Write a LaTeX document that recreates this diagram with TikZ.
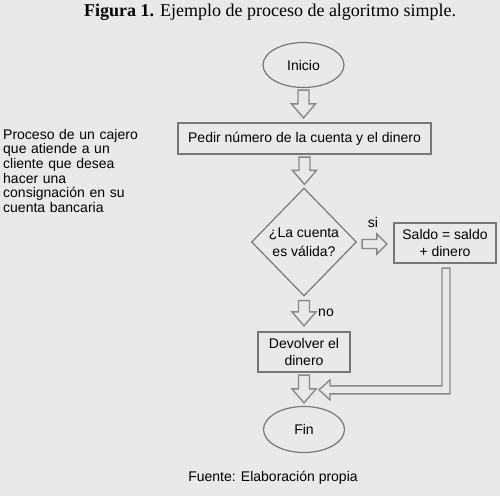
\documentclass[tikz,border=0pt]{standalone}
\usepackage{fontspec}
\setmainfont{Liberation Sans}
\newfontfamily\titlefont{Liberation Serif}
\usetikzlibrary{shapes.geometric,calc}
\definecolor{bg}{HTML}{E9E9E9}
\definecolor{edgecol}{HTML}{777777}
\definecolor{arrcol}{HTML}{888888}
\definecolor{txtcol}{HTML}{000000}
\tikzset{
  boxstyle/.style={draw=edgecol, line width=2.2pt, inner sep=0pt, align=center, text=txtcol, font=\fontsize{14}{17}\selectfont},
  ellipstyle/.style={ellipse, draw=edgecol, line width=1.2pt, inner sep=0pt, text=txtcol, font=\fontsize{14}{17}\selectfont},
  diamstyle/.style={diamond, draw=edgecol, line width=1.2pt, inner sep=0pt, align=center, text=txtcol, font=\fontsize{14}{19}\selectfont},
  lbl/.style={text=txtcol, font=\fontsize{14}{17}\selectfont, inner sep=0pt},
  harrow/.style={draw=arrcol, line width=1.4pt, line join=miter}
}
% hollow down arrow: #1 start coordinate, #2 end coordinate
\newcommand\hdown[2]{%
  \draw[harrow] ($(#1)+(-5.5,0)$) -- ($(#1)+(5.5,0)$) -- ($(#1|-#2)+(5.5,-14)$) -- ($(#1|-#2)+(12,-14)$) -- (#1|-#2) -- ($(#1|-#2)+(-12,-14)$) -- ($(#1|-#2)+(-5.5,-14)$) -- cycle;}
% hollow right arrow
\newcommand\hright[2]{%
  \draw[harrow] ($(#1)+(0,-4.5)$) -- ($(#2|-#1)+(-10,-4.5)$) -- ($(#2|-#1)+(-10,-10)$) -- (#2|-#1) -- ($(#2|-#1)+(-10,10)$) -- ($(#2|-#1)+(-10,4.5)$) -- ($(#1)+(0,4.5)$) -- cycle;}
\begin{document}
\begin{tikzpicture}[x=1pt,y=-1pt]
\fill[bg] (0,0) rectangle (500,496);
\useasboundingbox (0,0) rectangle (500,496);

\node[text=txtcol, inner sep=0pt, font=\titlefont\fontsize{18}{20}\selectfont] (title) at (270,12) {\textbf{Figura 1.} Ejemplo de proceso de algoritmo simple.};

\node[lbl, anchor=north west, align=left, text width=160pt, font=\fontsize{14}{14.6}\selectfont] (desc) at (3,129) {Proceso de un cajero\\que atiende a un\\cliente que desea\\hacer una\\consignación en su\\cuenta bancaria};

\node[ellipstyle, minimum width=81pt, minimum height=45pt] (inicio) at (303.5,65) {Inicio};
\node[boxstyle, minimum width=253pt, minimum height=31pt] (pedir) at (304.5,138.5) {Pedir número de la cuenta y el dinero};
\node[diamstyle, minimum width=105pt, minimum height=108pt] (valida) at (304,242) {¿La cuenta\\es válida?};
\node[boxstyle, minimum width=102pt, minimum height=40pt] (saldo) at (445,243) {Saldo = saldo\\+ dinero};
\node[boxstyle, minimum width=92pt, minimum height=40pt] (devolver) at (304,352) {Devolver el\\dinero};
\node[ellipstyle, minimum width=81pt, minimum height=46pt] (fin) at (304,429.5) {Fin};

\node[lbl] (si) at (373,222) {si};
\node[lbl] (no) at (326,313) {no};

\node[lbl] (fuente) at (273,478) {Fuente: Elaboración propia};

% connectors
\coordinate (a1s) at ($(inicio.south)+(0,2)$);
\coordinate (a1e) at ($(pedir.north)+(0,-4)$);
\hdown{a1s}{a1e}
\coordinate (a2s) at ($(pedir.south)+(0,2)$);
\coordinate (a2e) at ($(valida.north)+(0,-3)$);
\hdown{a2s}{a2e}
\coordinate (a3s) at ($(valida.south)+(0,4)$);
\coordinate (a3e) at ($(devolver.north)+(0,-5)$);
\hdown{a3s}{a3e}
\coordinate (a4s) at ($(devolver.south)+(0,2)$);
\coordinate (a4e) at ($(fin.north)+(0,-3)$);
\hdown{a4s}{a4e}
\coordinate (a5s) at ($(valida.east)+(5,2)$);
\coordinate (a5e) at ($(saldo.west)+(-6,0)$);
\hright{a5s}{a5e}
% L-shaped connector from saldo to the merge point
\coordinate (ls) at ($(saldo.south)+(1,4)$);
\coordinate (merge) at ($(fin.north)+(15,-16)$);
\draw[harrow] ($(ls)+(-4,0)$) -- ($(ls)+(4,0)$) -- ($(ls|-merge)+(4,4)$) -- ($(merge)+(11,4)$) -- ($(merge)+(11,10)$) -- (merge) -- ($(merge)+(11,-10)$) -- ($(merge)+(11,-4)$) -- ($(ls|-merge)+(-4,-4)$) -- cycle;
\end{tikzpicture}
\end{document}
